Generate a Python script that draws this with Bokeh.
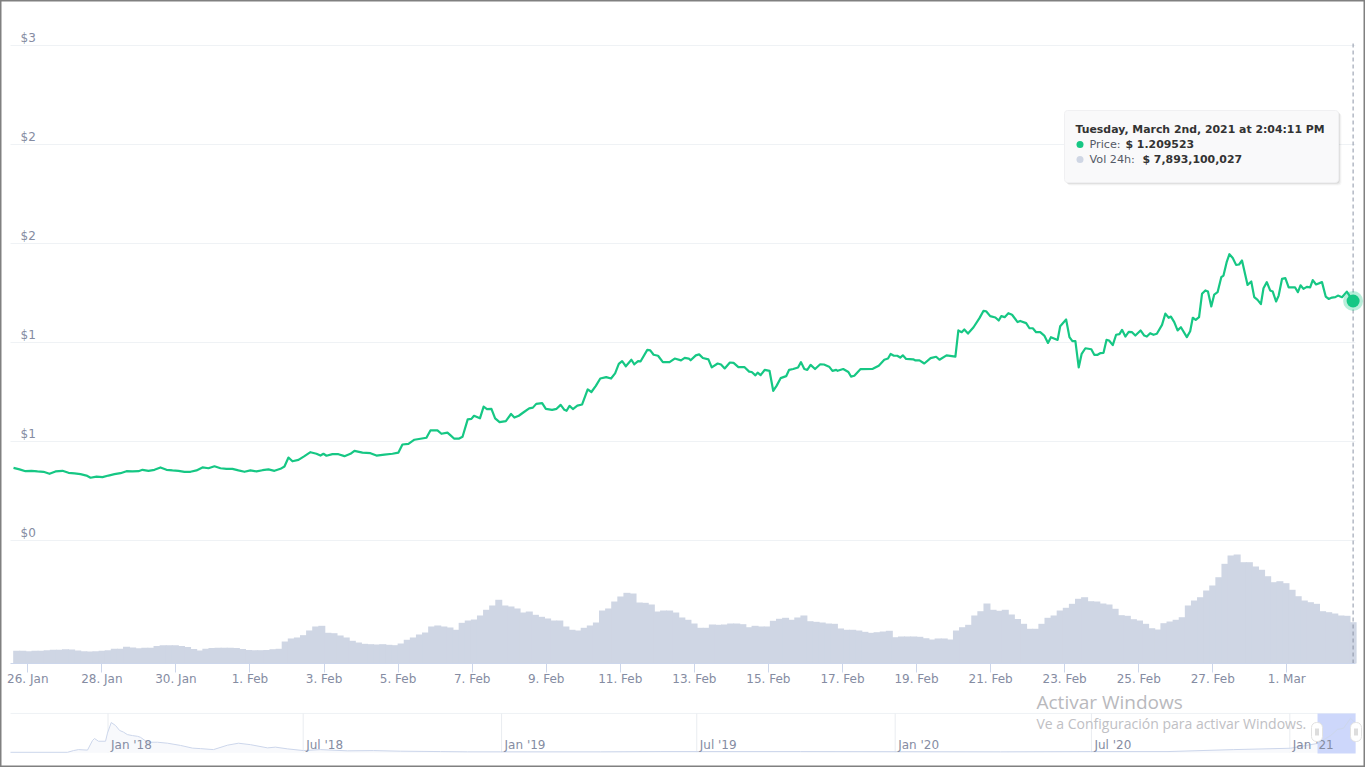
from bokeh.core.properties import value
from bokeh.embed import file_html
from bokeh.models import FixedTicker, LinearAxis, Range1d
from bokeh.plotting import figure
from bokeh.resources import INLINE
import numpy as np

# Price series: days since 26 Jan 2021, USD
price_day = [-.386,-.224,-.062,.100,.262,.424,.586,.748,.937,1.099,1.261,1.423,1.585,1.693,1.855,2.017,2.179,2.341,2.503,2.665,
 2.827,2.989,3.097,3.259,3.421,3.583,3.745,3.907,4.069,4.231,4.393,4.555,4.717,4.879,5.041,5.203,5.365,5.527,5.689,5.851,
 6.013,6.175,6.337,6.499,6.661,6.823,6.931,7.039,7.147,7.309,7.471,7.633,7.795,7.903,7.984,8.065,8.227,8.389,8.551,8.713,
 8.821,9.037,9.253,9.415,9.631,9.847,10.009,10.117,10.279,10.441,10.603,10.765,10.873,11.062,11.170,11.332,
 11.41,11.51,11.65,11.74,11.88,11.98,12.05,12.21,12.31,12.40,12.52,12.62,12.74,12.91,13.05,13.14,13.26,13.40,13.54,13.64,
 13.73,13.89,13.99,14.16,14.28,14.39,14.49,14.55,14.63,14.72,14.84,14.97,15.12,15.22,15.34,15.46,15.62,15.75,15.86,15.96,
 16.05,16.15,16.30,16.38,16.48,16.55,16.73,16.81,16.90,17.02,17.15,17.33,17.47,17.64,17.74,17.85,17.90,18.04,18.13,18.23,
 18.38,18.47,18.63,18.72,18.82,18.96,19.06,19.19,19.35,19.48,19.55,19.65,19.71,19.79,19.90,20.03,20.13,20.22,20.33,20.48,
 20.56,20.67,20.80,20.88,20.97,21.05,21.14,21.26,21.40,21.50,21.64,21.73,21.83,21.87,22.02,22.16,22.23,22.32,22.49,22.82,
 22.98,23.13,23.23,23.30,23.39,23.48,23.56,23.63,23.72,23.91,23.96,24.08,24.21,24.38,24.53,24.62,24.81,25.05,
 25.13,25.22,25.29,25.39,25.54,25.70,25.81,25.88,25.99,26.13,26.22,26.29,26.38,26.48,26.58,26.73,26.80,26.96,27.05,27.14,
 27.23,27.34,27.45,27.55,27.63,27.81,27.88,28.04,28.13,28.21,28.29,28.38,28.46,28.56,28.72,28.80,28.89,28.96,29.05,29.13,
 29.20,29.30,29.39,29.48,29.55,29.64,29.73,29.82,29.91,30.05,30.15,30.22,30.31,30.40,30.49,30.63,30.72,30.81,30.87,30.96,
 31.05,31.14,31.30,31.39,31.46,31.54,31.63,31.71,31.80,31.87,31.96,32.04,32.13,32.23,32.29,32.38,32.45,32.54,32.63,32.71,
 32.79,32.94,33.04,33.12,33.21,33.30,33.37,33.46,33.55,33.62,33.71,33.78,33.87,33.96,34.05,34.18,34.22,34.30,34.37,34.45,
 34.54,34.63,34.70,34.79,34.95,35.05,35.13,35.22,35.31,35.38,35.49,35.62,35.79]
price_usd = [.367,.359,.350,.352,.349,.347,.337,.349,.352,.342,.339,.335,.328,.317,.323,.320,.328,.335,.340,.350,
 .349,.350,.357,.352,.357,.369,.357,.354,.352,.347,.347,.354,.369,.365,.375,.365,.362,.362,.354,.347,
 .354,.349,.355,.359,.352,.362,.374,.419,.400,.407,.426,.446,.438,.429,.438,.428,.436,.436,.426,.438,
 .453,.444,.441,.429,.434,.438,.444,.485,.488,.509,.514,.519,.556,.556,.539,.545,
 .532,.515,.515,.524,.612,.614,.630,.617,.676,.664,.665,.617,.598,.603,.639,.621,.630,.649,.667,.671,
 .690,.694,.665,.660,.665,.685,.660,.655,.680,.664,.681,.687,.763,.750,.781,.818,.825,.818,.844,.892,
 .906,.880,.913,.890,.906,.905,.963,.960,.938,.933,.901,.901,.919,.910,.922,.919,.910,.935,.940,.922,
 .915,.874,.894,.889,.869,.899,.897,.876,.876,.853,.851,.834,.848,.835,.862,.857,.756,.781,.820,.830,
 .862,.866,.874,.901,.866,.862,.887,.866,.890,.889,.878,.857,.862,.857,.866,.851,.828,.832,.866,.867,
 .883,.913,.919,.942,.933,.933,.924,.935,.917,.915,.910,.910,.894,.921,.928,.913,.935,.929,
 1.061,1.052,1.066,1.045,1.077,1.123,1.160,1.158,1.133,1.126,1.111,1.133,1.128,1.148,1.140,1.103,1.109,1.098,1.072,1.072,
 1.052,1.052,1.035,.998,1.027,1.013,1.082,1.116,1.027,1.007,1.007,.874,.943,.971,.966,.938,.938,.946,.948,1.013,
 1.010,.987,1.039,1.042,1.064,1.030,1.054,1.052,1.035,1.061,1.035,1.030,1.047,1.039,1.044,1.089,1.146,1.125,1.131,1.103,
 1.061,1.077,1.027,1.057,1.125,1.114,1.128,1.246,1.263,1.257,1.182,1.242,1.254,1.330,1.338,1.409,1.446,1.427,1.392,1.394,
 1.414,1.291,1.308,1.229,1.215,1.194,1.274,1.305,1.263,1.257,1.207,1.237,1.321,1.325,1.278,1.278,1.279,1.254,1.289,1.271,
 1.281,1.278,1.315,1.293,1.305,1.232,1.220,1.227,1.229,1.237,1.229,1.257,1.2095]

# 24h volume, USD billions, one value per four hours
vol_bn = [2.43,2.43,2.35,2.43,2.43,2.54,2.62,2.62,2.73,2.67,2.48,2.35,2.29,2.35,2.43,2.54,2.81,2.81,3.19,3.06,
 2.92,3.00,3.00,3.34,3.50,3.50,3.50,3.34,3.15,2.77,2.48,2.81,2.96,3.00,3.00,3.00,2.96,2.77,2.58,2.54,
 2.54,2.58,2.73,2.81,4.20,4.78,4.97,5.41,6.31,7.07,7.20,5.87,5.79,5.35,4.97,4.34,4.01,3.76,3.69,3.63,
 3.69,3.57,3.50,3.82,4.53,4.97,5.54,5.92,
 7.07,7.26,7.07,6.88,6.44,7.77,8.21,8.40,9.17,10.26,11.08,12.17,11.08,10.89,10.51,9.74,9.93,9.30,8.92,8.60,
 8.21,8.21,7.07,6.44,6.30,6.82,7.26,7.83,10.12,10.51,11.84,12.80,13.50,13.37,11.65,11.59,11.27,9.93,10.12,10.12,
 9.74,8.79,8.35,7.64,6.82,6.82,7.45,7.39,7.45,7.64,7.64,7.51,6.93,7.20,7.07,7.07,8.16,8.54,8.73,8.35,
 8.79,9.17,8.08,7.96,7.83,7.64,7.58,6.69,6.44,6.44,6.30,6.05,5.86,5.98,6.11,6.25,5.02,5.16,5.16,5.16,
 5.10,4.83,4.58,4.78,4.78,4.58,6.30,6.93,7.39,9.17,9.99,11.46,10.26,10.07,10.26,9.36,8.50,7.58,6.63,6.63,
 7.58,8.73,9.17,10.12,10.64,11.40,12.36,12.66,11.90,11.84,11.46,11.27,10.45,9.23,9.11,8.46,8.21,7.58,6.74,6.49,
 7.70,8.02,8.35,8.84,11.08,12.03,12.66,13.94,14.90,16.48,19.04,20.63,20.82,19.35,19.35,18.53,17.90,16.67,15.53,15.72,
 15.34,14.08,12.85,12.03,11.71,11.40,9.99,9.80,9.55,9.17,9.11,7.89]
vol_first_day, vol_last_day = -.30, 35.79

# Navigator series: days since 1 Jan 2018, USD
nav_day = [-90.4,-37.6,-32,-27.4,-19,-14.4,-12.5,-8.8,-2.3,-.5,3,7,10.7,14.4,18,22.7,27.4,30.1,36.6,45.9,
 55.2,67.2,78.4,85.8,97.8,110.8,121,132.2,148,155.3,166.5,181.3,197.1,222.1,246.2,271.3,308.4,333.4,364,456.7,
 512,642,827.7,911,983,1044,1096.7,1121.7,1133.8,1140.3,1145.8,1152.3,1157]
nav_usd = [.02,.02,.09,.13,.11,.50,.58,.47,.47,.80,1.23,1.11,.91,.84,.74,.70,.67,.63,.43,.43,
 .39,.30,.19,.17,.13,.31,.39,.33,.20,.23,.16,.09,.13,.08,.09,.065,.05,.04,.04,.04,
 .05,.05,.04,.05,.05,.13,.185,.38,.70,.95,1.0,1.40,1.21]

# Axis ticks and labels
price_ticks = [0, .5, 1, 1.5, 2, 2.5]
price_labels = ["$0", "$1", "$1", "$2", "$2", "$3"]
date_ticks = list(range(0, 35, 2))
date_labels = ["26. Jan", "28. Jan", "30. Jan", "1. Feb", "3. Feb", "5. Feb", "7. Feb", "9. Feb", "11. Feb",
               "13. Feb", "15. Feb", "17. Feb", "19. Feb", "21. Feb", "23. Feb", "25. Feb", "27. Feb", "1. Mar"]
nav_ticks = [0, 181, 365, 546, 730, 912, 1096]
nav_labels = ["Jan '18", "Jul '18", "Jan '19", "Jul '19", "Jan '20", "Jul '20", "Jan '21"]

W, H = 1365, 767
FONT = value("DejaVu Sans")
GREEN, VOL, AXIS, LABEL, GRID = "#16c784", "#cfd6e4", "#ccd6eb", "#858ca2", "#eff2f5"

p = figure(width=W, height=H, output_backend="svg", toolbar_location=None, min_border=0,
           x_axis_type=None, y_axis_type=None,
           x_range=Range1d(-27.3 / 37.03, (W - 27.3) / 37.03),
           y_range=Range1d((540 - H) / 198, 540 / 198))
p.grid.visible = False
p.outline_line_color = "#808080"
p.outline_line_width = 2
p.background_fill_color = "white"
p.border_fill_color = "white"

p.extra_y_ranges["vol"] = Range1d(-(H - 663) * .191, 663 * .191)
p.extra_y_ranges["nav"] = Range1d(-(H - 752.3) / 24.6, 752.3 / 24.6)
p.extra_x_ranges["nav"] = Range1d(-107.5 / 1.0783, (W - 107.5) / 1.0783)
p.extra_x_ranges["px"] = Range1d(0, W)
p.extra_y_ranges["py"] = Range1d(H, 0)

grid_left, grid_right = -.467, 35.85

# price grid and labels
p.segment(x0=[grid_left] * 6, x1=[grid_right] * 6, y0=price_ticks, y1=price_ticks, line_color=GRID, line_width=1)
p.text(x=[-.197] * 6, y=price_ticks, text=price_labels, text_font=FONT, text_font_size="12px",
       text_color=LABEL, text_baseline="bottom", text_align="left", y_offset=-1)

# volume bars
vol_day = np.linspace(vol_first_day, vol_last_day, len(vol_bn))
p.vbar(x=vol_day, top=vol_bn, bottom=0, width=(vol_day[1] - vol_day[0]) * 1.15, fill_color=VOL,
       line_color=None, y_range_name="vol")

# date axis
ax = LinearAxis(fixed_location=(540 - 663) / 198, ticker=FixedTicker(ticks=date_ticks),
                major_label_overrides=dict(zip(date_ticks, date_labels)),
                axis_line_color=AXIS, major_tick_line_color=AXIS, major_tick_in=0, major_tick_out=9,
                minor_tick_line_color=None, major_label_text_color=LABEL,
                major_label_text_font="DejaVu Sans", major_label_text_font_size="12px",
                major_label_standoff=-1, bounds=(grid_left, grid_right))
p.add_layout(ax, "below")

# crosshair
p.segment(x0=[price_day[-1]], x1=[price_day[-1]], y0=[(540 - 663) / 198], y1=[2.51], line_color="#8c94a6", line_width=1,
          line_dash="4 3")

# price line
p.line(price_day, price_usd, line_color=GREEN, line_width=2.2, line_join="round")
p.scatter([price_day[-1]], [price_usd[-1]], size=20, fill_color=GREEN, fill_alpha=.3, line_color=None)
p.scatter([price_day[-1]], [price_usd[-1]], size=13, fill_color=GREEN, line_color=None)

# navigator
nav_top = 1.6
p.segment(x0=[-90.4], x1=[1157], y0=[nav_top], y1=[nav_top], x_range_name="nav", y_range_name="nav",
          line_color=GRID, line_width=1)
p.segment(x0=nav_ticks, x1=nav_ticks, y0=[0] * 7, y1=[nav_top] * 7, x_range_name="nav", y_range_name="nav",
          line_color="#e9ecf0", line_width=1)
p.varea(nav_day, y1=[0] * len(nav_day), y2=nav_usd, x_range_name="nav", y_range_name="nav",
        fill_color="#f8f9fc")
p.quad(left=[1121.7], right=[1157], bottom=[-.03], top=[nav_top], x_range_name="nav", y_range_name="nav",
       fill_color="#cdd7fb", line_color=None)
p.line(nav_day, nav_usd, x_range_name="nav", y_range_name="nav", line_color=AXIS, line_width=1)
p.text(x=nav_ticks, y=[.3] * 7, text=nav_labels, x_range_name="nav", y_range_name="nav", x_offset=3,
       text_font=FONT, text_font_size="12px", text_color=LABEL, text_baseline="middle", text_align="left")

# navigator handles
p.quad(left=[1311, 1350], right=[1322, 1361], top=[722, 722], bottom=[741, 741], x_range_name="px", y_range_name="py",
       fill_color="white", line_color="#e2e2e2", line_width=1, border_radius=5)
p.segment(x0=[1315.5, 1317.5, 1354.5, 1356.5], x1=[1315.5, 1317.5, 1354.5, 1356.5], y0=[728] * 4, y1=[735] * 4,
          x_range_name="px", y_range_name="py", line_color="#bbbbbb", line_width=1)

# tooltip
for off, alpha in ((3, .03), (2, .05), (1, .08)):
    p.quad(left=[1064 + off], right=[1338 + off], top=[110 + off], bottom=[182 + off], x_range_name="px",
           y_range_name="py", fill_color="#000000", fill_alpha=alpha, line_color=None, border_radius=3)
p.quad(left=[1064], right=[1338], top=[110], bottom=[182], x_range_name="px", y_range_name="py",
       fill_color="#f9f9fa", line_color="#f0f0f2", line_width=1, border_radius=3)
p.scatter([1079.5, 1079.5], [144, 159], size=7, fill_color=[GREEN, VOL], line_color=None, x_range_name="px",
          y_range_name="py")
p.text(x=[1075, 1125, 1142], y=[128.5, 144, 159], text=["Tuesday, March 2nd, 2021 at 2:04:11 PM", "$ 1.209523", "$ 7,893,100,027"],
       x_range_name="px", y_range_name="py", text_font=FONT, text_font_style="bold", text_font_size="10.9px",
       text_color="#333333", text_baseline="middle", text_align="left")
p.text(x=[1089, 1089], y=[144, 159], text=["Price:", "Vol 24h:"], x_range_name="px", y_range_name="py",
       text_font=FONT, text_font_size="11.2px", text_color="#555a66", text_baseline="middle", text_align="left")

# watermark
p.text(x=[1036], y=[701], text=["Activar Windows"], x_range_name="px", y_range_name="py", text_font=value("Open Sans"),
       text_font_size="19px", text_color="#b9b9bd", text_baseline="middle", text_align="left")
p.text(x=[1036], y=[722.5], text=["Ve a Configuración para activar Windows."], x_range_name="px", y_range_name="py",
       text_font=value("Open Sans"), text_font_size="14px", text_color="#c0c0c4", text_baseline="middle", text_align="left")

open("out.html", "w").write(file_html(p, INLINE))
